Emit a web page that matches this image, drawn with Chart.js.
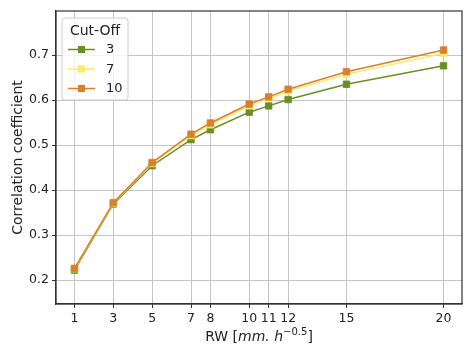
<!DOCTYPE html>
<html>
<head>
<meta charset="utf-8">
<script src="https://cdn.jsdelivr.net/npm/chart.js@4"></script>
<style>
html,body{margin:0;padding:0;background:#fff;}
canvas{display:block;}
</style>
</head>
<body>
<canvas id="c" width="474" height="355"></canvas>
<script>
// ---- data ----
const rwValues = [1, 3, 5, 7, 8, 10, 11, 12, 15, 20];
const cutoffLabels = ['3', '7', '10'];
const corrCut3  = [0.222, 0.369, 0.454, 0.512, 0.534, 0.573, 0.587, 0.601, 0.635, 0.676];
const corrCut7  = [0.225, 0.371, 0.459, 0.521, 0.545, 0.587, 0.603, 0.620, 0.657, 0.704];
const corrCut10 = [0.226, 0.372, 0.461, 0.524, 0.549, 0.591, 0.607, 0.624, 0.663, 0.711];
const xTickValues = [1, 3, 5, 7, 8, 10, 11, 12, 15, 20];
const yTickValues = [0.2, 0.3, 0.4, 0.5, 0.6, 0.7];

const FONT = '"DejaVu Sans", sans-serif';
const colors = ['#6b8e23', '#fde96b', '#d8802c'];
const seriesList = [corrCut3, corrCut7, corrCut10];

const datasets = seriesList.map((s, i) => ({
  label: cutoffLabels[i],
  data: rwValues.map((x, j) => ({x: x, y: s[j]})),
  borderColor: colors[i],
  backgroundColor: colors[i],
  pointBackgroundColor: colors[i],
  pointBorderColor: colors[i],
  borderWidth: 1.5,
  pointStyle: 'rect',
  pointRadius: 4.6,
  pointBorderWidth: 0.8,
  tension: 0,
  order: 3 - i
}));

const framePlugin = {
  id: 'frame',
  afterDatasetsDraw(chart) {
    const ctx = chart.ctx, a = chart.chartArea;
    ctx.save();
    ctx.strokeStyle = '#333';
    ctx.lineWidth = 1.2;
    ctx.strokeRect(a.left, a.top, a.right - a.left, a.bottom - a.top);

    // legend box
    const bx = 62, by = 18, bw = 66, bh = 82, r = 3;
    ctx.beginPath();
    ctx.moveTo(bx + r, by);
    ctx.arcTo(bx + bw, by, bx + bw, by + bh, r);
    ctx.arcTo(bx + bw, by + bh, bx, by + bh, r);
    ctx.arcTo(bx, by + bh, bx, by, r);
    ctx.arcTo(bx, by, bx + bw, by, r);
    ctx.closePath();
    ctx.fillStyle = 'rgba(255,255,255,0.8)';
    ctx.fill();
    ctx.strokeStyle = '#cccccc';
    ctx.lineWidth = 1;
    ctx.stroke();

    ctx.fillStyle = '#222';
    ctx.font = '14px ' + FONT;
    ctx.textAlign = 'center';
    ctx.textBaseline = 'alphabetic';
    ctx.fillText('Cut-Off', bx + bw / 2, 34.5);

    const rows = [49.5, 69, 88.5];
    chart.data.datasets.forEach((ds, i) => {
      const y = rows[i];
      ctx.strokeStyle = ds.borderColor;
      ctx.lineWidth = 1.5;
      ctx.beginPath();
      ctx.moveTo(68, y);
      ctx.lineTo(95, y);
      ctx.stroke();
      ctx.fillStyle = ds.borderColor;
      ctx.fillRect(81.5 - 3.6, y - 3.6, 7.2, 7.2);
      ctx.fillStyle = '#222';
      ctx.font = '13px ' + FONT;
      ctx.textAlign = 'left';
      ctx.textBaseline = 'middle';
      ctx.fillText(ds.label, 106, y + 0.5);
    });

    // y axis title
    ctx.save();
    ctx.translate(18, (a.top + a.bottom) / 2);
    ctx.rotate(-Math.PI / 2);
    ctx.font = '14px ' + FONT;
    ctx.fillStyle = '#222';
    ctx.textAlign = 'center';
    ctx.textBaseline = 'middle';
    ctx.fillText('Correlation coefficient', 0, 0);
    ctx.restore();

    // x axis title with mathtext-like parts
    const parts = [
      {t: 'RW [', f: '14px ' + FONT, dy: 0},
      {t: 'mm. h', f: 'italic 14px ' + FONT, dy: 0},
      {t: '\u22120.5', f: '10px ' + FONT, dy: -6},
      {t: ']', f: '14px ' + FONT, dy: 0}
    ];
    let total = 0;
    parts.forEach(p => { ctx.font = p.f; p.w = ctx.measureText(p.t).width; total += p.w; });
    let x = (a.left + a.right) / 2 - total / 2;
    ctx.textAlign = 'left';
    ctx.textBaseline = 'alphabetic';
    ctx.fillStyle = '#222';
    parts.forEach(p => { ctx.font = p.f; ctx.fillText(p.t, x, 341 + p.dy); x += p.w; });
    ctx.restore();
  }
};

new Chart(document.getElementById('c'), {
  type: 'line',
  data: {datasets: datasets},
  options: {
    responsive: false,
    animation: false,
    events: [],
    layout: {padding: {top: 11, right: 12, left: 0, bottom: 0}},
    plugins: {legend: {display: false}, tooltip: {enabled: false}},
    scales: {
      x: {
        type: 'linear',
        min: 0.05, max: 20.95,
        afterBuildTicks: s => { s.ticks = xTickValues.map(v => ({value: v})); },
        afterFit: s => { s.height = 51; },
        ticks: {
          callback: v => String(v),
          font: {family: FONT, size: 12.5},
          color: '#222',
          padding: 3,
          maxRotation: 0,
          autoSkip: false
        },
        grid: {color: '#c4c4c4', lineWidth: 1, drawTicks: true, tickLength: 4, tickColor: '#333'},
        border: {color: '#333', width: 1.2}
      },
      y: {
        min: 0.1467, max: 0.7978,
        afterBuildTicks: s => { s.ticks = yTickValues.map(v => ({value: v})); },
        afterFit: s => { s.width = 56; },
        ticks: {
          callback: v => v.toFixed(1),
          font: {family: FONT, size: 12.5},
          color: '#222',
          padding: 3
        },
        grid: {color: '#c4c4c4', lineWidth: 1, drawTicks: true, tickLength: 4, tickColor: '#333'},
        border: {color: '#333', width: 1.2}
      }
    }
  },
  plugins: [framePlugin]
});
</script>
</body>
</html>
